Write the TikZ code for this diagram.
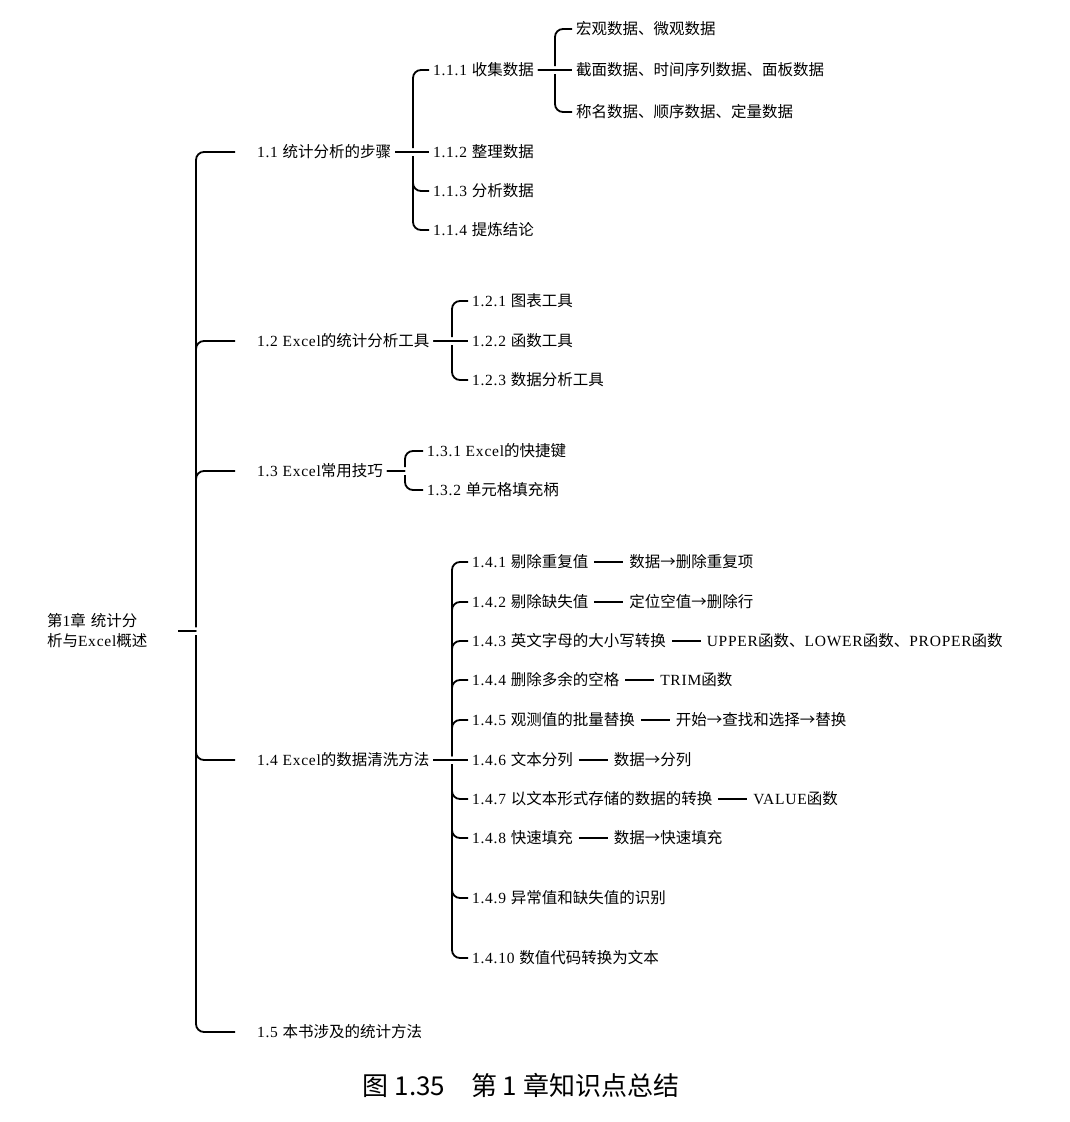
\documentclass[tikz,border=0pt]{standalone}
\usepackage{fontspec}
\setmainfont[LetterSpace=5]{Liberation Serif}
\newfontfamily\cjk{Noto Sans CJK SC}
\newcommand\zh[1]{{\cjk #1}}
\newcommand\arr{{\cjk →}}
\tikzset{
  item/.style={anchor=west, inner xsep=4pt, inner ysep=2pt, outer sep=0pt, font=\fontsize{15.5}{20}\selectfont},
  conn/.style={line width=1.8pt, draw=black},
  toplevel/.style={shorten >=18pt},
  figcaption/.style={font=\fontsize{26}{30}\selectfont\cjk, inner sep=0pt},
}
\newcommand\branch[4][]{\draw[conn,shorten <=4pt,#1] (#2.east) -- (#2.east -| #3) [rounded corners=8pt] (#2.east -| #3) |- (#4.west);}
\newcommand\straight[3][]{\draw[conn,shorten <=4pt,#1] (#2.east) -- (#3.west);}
\newcommand\dashto[2]{\draw[conn,shorten <=2pt,shorten >=2pt] (#1.east) -- (#2.west);}
\begin{document}
\begin{tikzpicture}[x=1pt,y=-1pt]
\useasboundingbox (0,0) rectangle (1070,1122);
% bars
\coordinate (b0) at (196,0);
\coordinate (b11) at (413,0);
\coordinate (b12) at (452,0);
\coordinate (b13) at (405,0);
\coordinate (b14) at (452,0);
\coordinate (b111) at (555,0);
% root
\node[item, text width=127pt, align=left] (root) at (43,631) {\zh{第}1\zh{章 统计分}\\\zh{析与}Excel\zh{概述}};
% level 1
\node[item] (n11) at (253,152) {1.1 \zh{统计分析的步骤}};
\node[item] (n12) at (253,341) {1.2 Excel\zh{的统计分析工具}};
\node[item] (n13) at (253,471) {1.3 Excel\zh{常用技巧}};
\node[item] (n14) at (253,760) {1.4 Excel\zh{的数据清洗方法}};
\node[item] (n15) at (253,1032) {1.5 \zh{本书涉及的统计方法}};
% level 2 of 1.1
\node[item] (n111) at (429,70) {1.1.1 \zh{收集数据}};
\node[item] (n112) at (429,152) {1.1.2 \zh{整理数据}};
\node[item] (n113) at (429,191) {1.1.3 \zh{分析数据}};
\node[item] (n114) at (429,230) {1.1.4 \zh{提炼结论}};
% level 3 of 1.1.1
\node[item] (s1) at (572,29) {\zh{宏观数据、微观数据}};
\node[item] (s2) at (572,70) {\zh{截面数据、时间序列数据、面板数据}};
\node[item] (s3) at (572,112) {\zh{称名数据、顺序数据、定量数据}};
% level 2 of 1.2
\node[item] (n121) at (468,301) {1.2.1 \zh{图表工具}};
\node[item] (n122) at (468,341) {1.2.2 \zh{函数工具}};
\node[item] (n123) at (468,380) {1.2.3 \zh{数据分析工具}};
% level 2 of 1.3
\node[item] (n131) at (423,451) {1.3.1 Excel\zh{的快捷键}};
\node[item] (n132) at (423,490) {1.3.2 \zh{单元格填充柄}};
% level 2 of 1.4
\node[item] (n141) at (468,562) {1.4.1 \zh{剔除重复值}};
\node[item] (n142) at (468,602) {1.4.2 \zh{剔除缺失值}};
\node[item] (n143) at (468,641) {1.4.3 \zh{英文字母的大小写转换}};
\node[item] (n144) at (468,680) {1.4.4 \zh{删除多余的空格}};
\node[item] (n145) at (468,720) {1.4.5 \zh{观测值的批量替换}};
\node[item] (n146) at (468,760) {1.4.6 \zh{文本分列}};
\node[item] (n147) at (468,799) {1.4.7 \zh{以文本形式存储的数据的转换}};
\node[item] (n148) at (468,838) {1.4.8 \zh{快速填充}};
\node[item] (n149) at (468,898) {1.4.9 \zh{异常值和缺失值的识别}};
\node[item] (n1410) at (468,958) {1.4.10 \zh{数值代码转换为文本}};
% values of 1.4.x
\node[item] (v141) at ([xshift=33pt]n141.east) {\zh{数据}\arr\zh{删除重复项}};
\node[item] (v142) at ([xshift=33pt]n142.east) {\zh{定位空值}\arr\zh{删除行}};
\node[item] (v143) at ([xshift=33pt]n143.east) {UPPER\zh{函数、}LOWER\zh{函数、}PROPER\zh{函数}};
\node[item] (v144) at ([xshift=33pt]n144.east) {TRIM\zh{函数}};
\node[item] (v145) at ([xshift=33pt]n145.east) {\zh{开始}\arr\zh{查找和选择}\arr\zh{替换}};
\node[item] (v146) at ([xshift=33pt]n146.east) {\zh{数据}\arr\zh{分列}};
\node[item] (v147) at ([xshift=33pt]n147.east) {VALUE\zh{函数}};
\node[item] (v148) at ([xshift=33pt]n148.east) {\zh{数据}\arr\zh{快速填充}};
% caption
\node[figcaption] (caption) at (521,1085) {图 1.35\hspace{1em}第 1 章知识点总结};
% connectors: root
\branch[toplevel]{root}{b0}{n11}
\branch[toplevel]{root}{b0}{n12}
\branch[toplevel]{root}{b0}{n13}
\branch[toplevel]{root}{b0}{n14}
\branch[toplevel]{root}{b0}{n15}
% 1.1
\branch{n11}{b11}{n111}
\straight{n11}{n112}
\branch{n11}{b11}{n113}
\branch{n11}{b11}{n114}
% 1.1.1
\branch{n111}{b111}{s1}
\straight{n111}{s2}
\branch{n111}{b111}{s3}
% 1.2
\branch{n12}{b12}{n121}
\straight{n12}{n122}
\branch{n12}{b12}{n123}
% 1.3
\branch{n13}{b13}{n131}
\branch{n13}{b13}{n132}
% 1.4
\branch{n14}{b14}{n141}
\branch{n14}{b14}{n142}
\branch{n14}{b14}{n143}
\branch{n14}{b14}{n144}
\branch{n14}{b14}{n145}
\straight{n14}{n146}
\branch{n14}{b14}{n147}
\branch{n14}{b14}{n148}
\branch{n14}{b14}{n149}
\branch{n14}{b14}{n1410}
% dashes to values
\dashto{n141}{v141}
\dashto{n142}{v142}
\dashto{n143}{v143}
\dashto{n144}{v144}
\dashto{n145}{v145}
\dashto{n146}{v146}
\dashto{n147}{v147}
\dashto{n148}{v148}
\end{tikzpicture}
\end{document}
